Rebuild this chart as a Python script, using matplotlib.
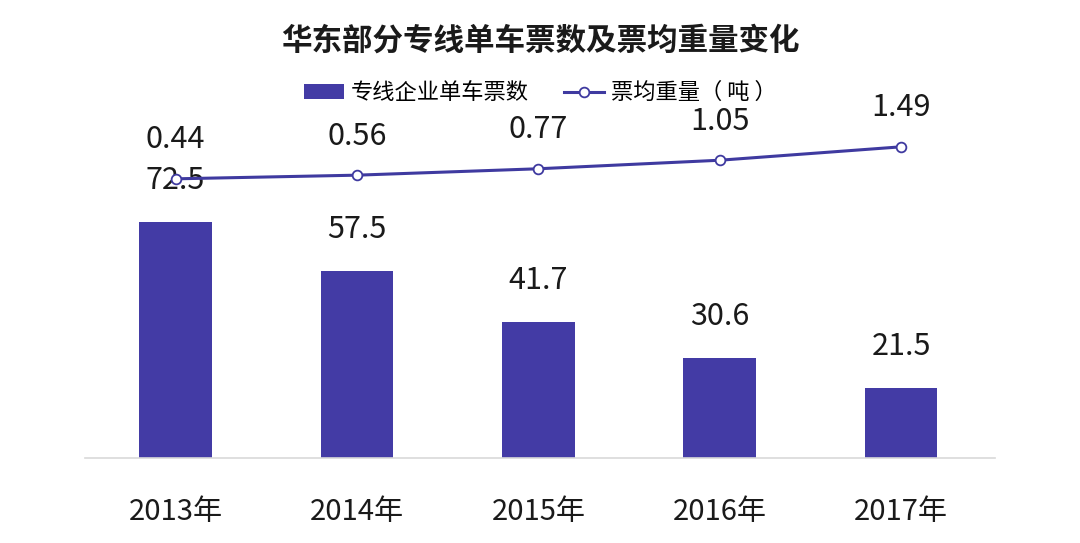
import matplotlib.pyplot as plt
import numpy as np

plt.rcParams['font.family'] = ['Noto Sans CJK SC', 'DejaVu Sans']

# chart data
years = ['2013年', '2014年', '2015年', '2016年', '2017年']
tickets_per_truck = [72.5, 57.5, 41.7, 30.6, 21.5]
avg_weight = [0.44, 0.56, 0.77, 1.05, 1.49]
weight_labels = ['0.44', '0.56', '0.77', '1.05', '1.49']

bar_color = '#433ba5'
line_color = '#3f3aa0'

fig = plt.figure(figsize=(10.8, 5.43), dpi=100)
ax = fig.add_axes([0.0787, 0.1565, 0.843, 0.659])
x = np.arange(len(years))

# bars on the primary axis
bars = ax.bar(x, tickets_per_truck, width=0.4, color=bar_color, label='专线企业单车票数', zorder=2)
ax.set_ylim(0, 110)
ax.set_xlim(-0.5, 4.52)
for xi, v in zip(x, tickets_per_truck):
    ax.annotate(f'{v}', (xi, v), xytext=(0, 30), textcoords='offset points',
                ha='center', va='center', fontsize=22, color='#1a1a1a')

# line on a secondary axis
ax2 = ax.twinx()
line, = ax2.plot(x, avg_weight, color=line_color, linewidth=2.2, marker='o',
                 markersize=7, markerfacecolor='white', markeredgecolor=line_color,
                 markeredgewidth=1.3, label='票均重量（吨）', zorder=3)
ax2.set_ylim(-8.72, 3.02)
for xi, v, t in zip(x, avg_weight, weight_labels):
    ax2.annotate(t, (xi, v), xytext=(0, 28), textcoords='offset points',
                 ha='center', va='center', fontsize=22, color='#1a1a1a')

for a in (ax, ax2):
    for s in ('top', 'right', 'left', 'bottom'):
        a.spines[s].set_visible(False)
    a.set_yticks([])
ax.spines['bottom'].set_visible(True)
ax.spines['bottom'].set_color('#d9d9d9')
ax.spines['bottom'].set_linewidth(1.2)

ax.set_xticks(x)
ax.set_xticklabels(years, fontsize=21, color='#1a1a1a')
ax.tick_params(axis='x', length=0, pad=28)

fig.text(0.5, 0.926, '华东部分专线单车票数及票均重量变化', ha='center', va='center',
         fontsize=22, fontweight='bold', color='#1a1a1a')

fig.legend([bars, line], ['专线企业单车票数', '票均重量（ 吨 ）'], loc='center',
           bbox_to_anchor=(0.5, 0.829), ncol=2, frameon=False, fontsize=16,
           handlelength=1.8, handletextpad=0.3, columnspacing=1.6)

fig.savefig('out.png', dpi=100)
